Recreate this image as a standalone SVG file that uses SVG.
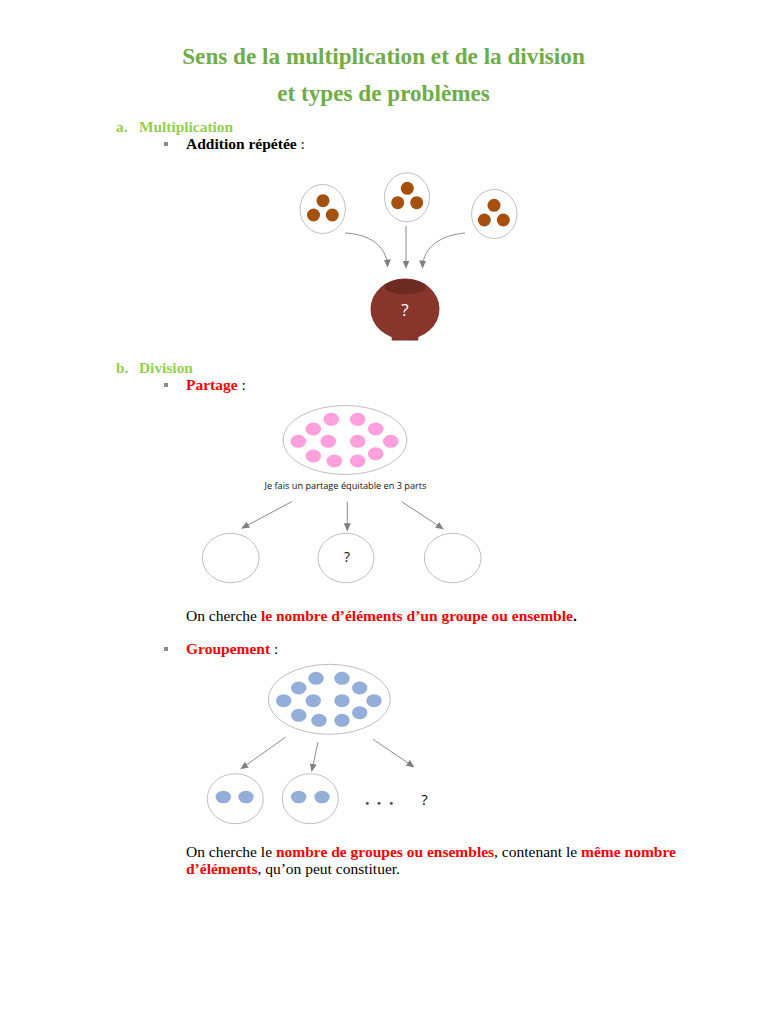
<svg xmlns="http://www.w3.org/2000/svg" width="768" height="1024" viewBox="0 0 768 1024">
<style>
text{font-family:"Liberation Serif","Times New Roman",serif}
.t{font-size:23.2px;font-weight:bold;fill:#70ad47;text-anchor:middle}
.h{font-size:15.4px;font-weight:bold;fill:#92d050}
.b{font-size:15.5px;fill:#000}
.s{font-weight:bold}
.r{font-weight:bold;fill:#f00}
.c{fill:#fff;stroke:#bfbfbf;stroke-width:1}
.bd{fill:#a5500f}
.pk{fill:#ff9fdc}
.bl{fill:#92aed9}
.q{font-family:"Open Sans","DejaVu Sans",sans-serif;fill:#111;text-anchor:middle}
.ln{fill:none;stroke:#8c8c8c;stroke-width:1}
.bu{fill:#8a8a8a}
</style>
<defs>
<marker id="a" markerUnits="userSpaceOnUse" markerWidth="9" markerHeight="8" refX="7.500" refY="3.500" orient="auto"><path d="M0 0L8 3.500L0 7z" fill="#7f7f7f"/></marker>
</defs>
<rect width="768" height="1024" fill="#fff"/>
<g id="titles">
<text class="t" x="383.500" y="64">Sens de la multiplication et de la division</text>
<text class="t" x="383.500" y="101">et types de problèmes</text>
</g>
<g id="text">
<text class="h" x="116" y="131.600">a.</text><text class="h" x="139" y="131.600">Multiplication</text>
<rect class="bu" x="164" y="142" width="4" height="4"/>
<text class="b" x="186" y="148.600"><tspan class="s">Addition répétée</tspan> :</text>
<text class="h" x="116" y="372.600">b.</text><text class="h" x="139" y="372.600">Division</text>
<rect class="bu" x="164" y="383" width="4" height="4"/>
<text class="b" x="186" y="389.600"><tspan class="r">Partage</tspan> :</text>
<text class="b" x="186" y="620.600">On cherche <tspan class="r">le nombre d’éléments d’un groupe ou ensemble</tspan><tspan class="s">.</tspan></text>
<rect class="bu" x="164" y="647" width="4" height="4"/>
<text class="b" x="186" y="653.600"><tspan class="r">Groupement</tspan> :</text>
<text class="b" x="186" y="856.600">On cherche le <tspan class="r">nombre de groupes ou ensembles</tspan>, contenant le <tspan class="r">même nombre</tspan></text>
<text class="b" x="186" y="873.600"><tspan class="r">d’éléments</tspan>, qu’on peut constituer.</text>
</g>
<g id="connectors">
<path class="ln" d="M345 233C368 234 387 245 387.500 267" marker-end="url(#a)"/>
<path class="ln" d="M406 226V268" marker-end="url(#a)"/>
<path class="ln" d="M465 233C442 235 423 246 422.500 268" marker-end="url(#a)"/>
<path class="ln" d="M291.700 501.700L241.700 528.300" marker-end="url(#a)"/>
<path class="ln" d="M347.300 501.700V530.700" marker-end="url(#a)"/>
<path class="ln" d="M401.700 501.700L443.300 529" marker-end="url(#a)"/>
<path class="ln" d="M285.700 737L240.700 769" marker-end="url(#a)"/>
<path class="ln" d="M318 742L311.700 771.300" marker-end="url(#a)"/>
<path class="ln" d="M373 739.300L414 767" marker-end="url(#a)"/>
</g>
<g id="add-a"><ellipse class="c" cx="322.700" cy="209" rx="22.700" ry="24.500"/><circle class="bd" cx="323" cy="200.700" r="6.500"/><circle class="bd" cx="313.500" cy="215" r="6.500"/><circle class="bd" cx="332.300" cy="215" r="6.500"/></g>
<g id="add-b"><ellipse class="c" cx="407" cy="197.300" rx="22.500" ry="24.500"/><circle class="bd" cx="407.300" cy="188.300" r="6.500"/><circle class="bd" cx="397.700" cy="202.700" r="6.500"/><circle class="bd" cx="416.700" cy="202.700" r="6.500"/></g>
<g id="add-c"><ellipse class="c" cx="494.300" cy="214" rx="22.700" ry="24.500"/><circle class="bd" cx="494" cy="205.300" r="6.500"/><circle class="bd" cx="484.300" cy="220" r="6.500"/><circle class="bd" cx="503.300" cy="220" r="6.500"/></g>
<g id="pot">
<rect x="391.700" y="332" width="26.600" height="8.500" fill="#7e3229"/>
<ellipse cx="405" cy="309" rx="34.500" ry="30.500" fill="#88352c"/>
<ellipse cx="405" cy="286.700" rx="20.500" ry="7.500" fill="#6d2a21"/>
<text x="405" y="315.500" font-size="17" style="font-family:'Open Sans',sans-serif" fill="#fff" text-anchor="middle">?</text>
</g>
<g id="partage-set">
<ellipse class="c" cx="345" cy="440" rx="62" ry="34.500"/>
<g class="pk">
<ellipse cx="331.300" cy="419.300" rx="7.800" ry="6.500"/><ellipse cx="357.700" cy="419.300" rx="7.800" ry="6.500"/><ellipse cx="313.300" cy="429" rx="7.800" ry="6.500"/><ellipse cx="375.700" cy="429" rx="7.800" ry="6.500"/><ellipse cx="298.300" cy="441.300" rx="7.800" ry="6.500"/><ellipse cx="328.300" cy="441.300" rx="7.800" ry="6.500"/><ellipse cx="357.700" cy="441.300" rx="7.800" ry="6.500"/><ellipse cx="390.700" cy="441.300" rx="7.800" ry="6.500"/><ellipse cx="313.300" cy="456" rx="7.800" ry="6.500"/><ellipse cx="334.300" cy="461" rx="7.800" ry="6.500"/><ellipse cx="357.700" cy="461" rx="7.800" ry="6.500"/><ellipse cx="375.700" cy="453.700" rx="7.800" ry="6.500"/>
</g>
<text class="q" x="345.500" y="489" font-size="9.200" textLength="162" lengthAdjust="spacing">Je fais un partage équitable  en 3 parts</text>
</g>
<g id="partage-1"><ellipse class="c" cx="230.700" cy="558" rx="28.300" ry="24.700"/></g>
<g id="partage-2"><ellipse class="c" cx="346" cy="558" rx="28" ry="24.700"/><text class="q" x="347" y="562" font-size="14">?</text></g>
<g id="partage-3"><ellipse class="c" cx="452.700" cy="558" rx="28.300" ry="24.700"/></g>
<g id="groupement-set">
<ellipse class="c" cx="329.300" cy="699.300" rx="61" ry="35"/>
<g class="bl">
<ellipse cx="316" cy="678.300" rx="7.700" ry="6.500"/><ellipse cx="342" cy="678.300" rx="7.700" ry="6.500"/><ellipse cx="298.700" cy="688" rx="7.700" ry="6.500"/><ellipse cx="359.700" cy="688" rx="7.700" ry="6.500"/><ellipse cx="283.700" cy="700.700" rx="7.700" ry="6.500"/><ellipse cx="313.300" cy="700.700" rx="7.700" ry="6.500"/><ellipse cx="342" cy="700.700" rx="7.700" ry="6.500"/><ellipse cx="374" cy="700.700" rx="7.700" ry="6.500"/><ellipse cx="298.700" cy="715.300" rx="7.700" ry="6.500"/><ellipse cx="319" cy="720.300" rx="7.700" ry="6.500"/><ellipse cx="342" cy="720.300" rx="7.700" ry="6.500"/><ellipse cx="359.700" cy="712.700" rx="7.700" ry="6.500"/>
</g>
</g>
<g id="groupe-1"><ellipse class="c" cx="235.300" cy="798.700" rx="28" ry="25"/><ellipse class="bl" cx="223.300" cy="797" rx="7.700" ry="6.300"/><ellipse class="bl" cx="246" cy="797" rx="7.700" ry="6.300"/></g>
<g id="groupe-2"><ellipse class="c" cx="310.300" cy="798.700" rx="28" ry="25"/><ellipse class="bl" cx="298.700" cy="797" rx="7.700" ry="6.300"/><ellipse class="bl" cx="322" cy="797" rx="7.700" ry="6.300"/></g>
<g id="groupe-suite">
<circle cx="367.300" cy="803.300" r="1.500" fill="#555"/><circle cx="379" cy="803.300" r="1.500" fill="#555"/><circle cx="391.300" cy="803.300" r="1.500" fill="#555"/>
<text class="q" x="424.500" y="805" font-size="15">?</text>
</g>
</svg>
